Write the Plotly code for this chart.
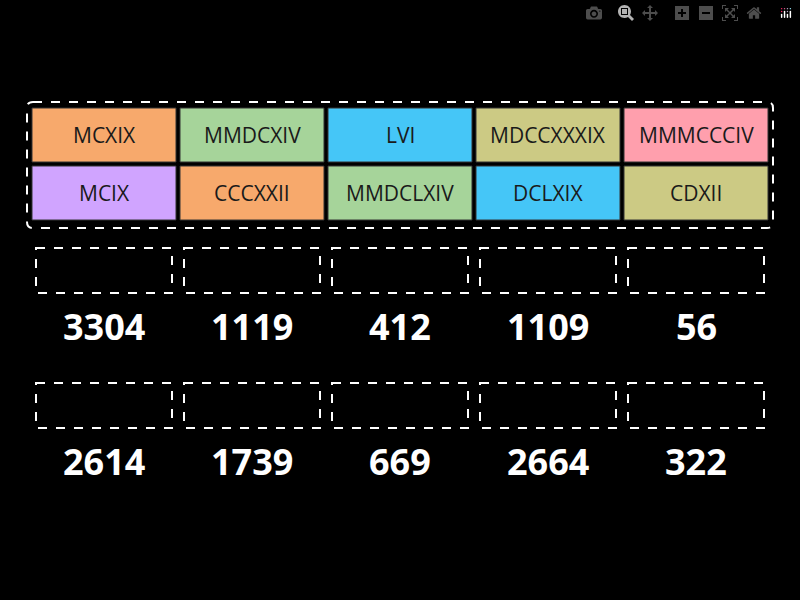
import plotly.graph_objects as go

tiles_row1 = ["MCXIX", "MMDCXIV", "LVI", "MDCCXXXIX", "MMMCCCIV"]
tiles_row2 = ["MCIX", "CCCXXII", "MMDCLXIV", "DCLXIX", "CDXII"]
colors_row1 = ["#F7A96C", "#A6D49A", "#45C6F7", "#CCCA84", "#FF9FAD"]
colors_row2 = ["#D0A4FF", "#F7A96C", "#A6D49A", "#45C6F7", "#CCCA84"]
numbers_row1 = ["3304", "1119", "412", "1109", "56"]
numbers_row2 = ["2614", "1739", "669", "2664", "322"]

fig = go.Figure()
shapes, ann = [], []
shapes.append(dict(type="path", path="M 33 102 L 767 102 Q 773 102 773 108 L 773 222 Q 773 228 767 228 L 33 228 Q 27 228 27 222 L 27 108 Q 27 102 33 102 Z",
                   line=dict(color="white", width=2, dash="dash")))
for r, (labels, cols) in enumerate([(tiles_row1, colors_row1), (tiles_row2, colors_row2)]):
    y0 = 108 + r * 58
    for i, (t, c) in enumerate(zip(labels, cols)):
        x0 = 32 + i * 148
        shapes.append(dict(type="rect", x0=x0, x1=x0 + 144, y0=y0, y1=y0 + 54,
                           fillcolor=c, line=dict(color="#333333", width=1)))
        ann.append(dict(x=x0 + 72, y=y0 + 27, text=t, showarrow=False,
                        font=dict(family="Open Sans", size=21, color="#1a1a1a")))
for r, nums in enumerate([numbers_row1, numbers_row2]):
    y0 = 248 + r * 135
    for i, n in enumerate(nums):
        x0 = 36 + i * 148
        shapes.append(dict(type="rect", x0=x0, x1=x0 + 136, y0=y0, y1=y0 + 45,
                           line=dict(color="white", width=2, dash="dash")))
        ann.append(dict(x=x0 + 68, y=y0 + 78, text="<b>%s</b>" % n, showarrow=False,
                        font=dict(family="Open Sans", size=36, color="white")))

fig.update_layout(width=800, height=600, margin=dict(l=0, r=0, t=0, b=0),
                  paper_bgcolor="black", plot_bgcolor="black",
                  xaxis=dict(range=[0, 800], visible=False),
                  yaxis=dict(range=[600, 0], visible=False),
                  shapes=shapes, annotations=ann, showlegend=False)
fig.write_html("out.html",
               post_script="document.body.style.margin='0';document.body.style.background='black';document.body.style.overflow='hidden';")
